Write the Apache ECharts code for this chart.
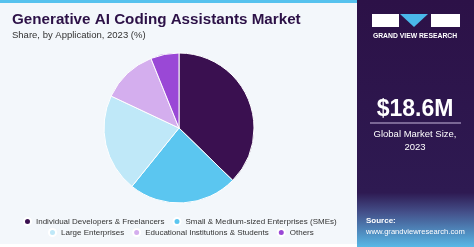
<!DOCTYPE html>
<html>
<head>
<meta charset="utf-8">
<script src="https://cdn.jsdelivr.net/npm/echarts@6/dist/echarts.min.js"></script>
<style>
  html, body { margin: 0; padding: 0; background: #f3f7fb; }
  #chart { width: 474px; height: 247px; }
</style>
</head>
<body>
<div id="chart"></div>
<script>
// shares, 2023 (%)
var categories = [
	'Individual Developers & Freelancers',
	'Small & Medium-sized Enterprises (SMEs)',
	'Large Enterprises',
	'Educational Institutions & Students',
	'Others'
];
var shares = [37.3, 23.5, 21.2, 11.9, 6.1];
var colors = ['#3a1050', '#5bc6f0', '#bfe8f8', '#d4aeee', '#9a48d6'];

var marketSize = '$18.6M';
var marketLabel = 'Global Market Size,\n2023';

var chart = echarts.init(document.getElementById('chart'), null, { renderer: 'canvas' });

var data = [];
for (var i = 0; i < categories.length; i++)
{
	data.push({ name: categories[i], value: shares[i], itemStyle: { color: colors[i] } });
}

var legendBase =
{
	orient: 'horizontal',
	icon: 'circle',
	itemWidth: 7,
	itemHeight: 7,
	itemGap: 8,
	textStyle: { fontSize: 8, color: '#333', fontFamily: 'Liberation Sans' },
	selectedMode: false
};

var options =
{
	backgroundColor: '#f3f7fb',
	animation: false,
	legend:
	[
		Object.assign({}, legendBase, { data: categories.slice(0, 2), left: 18, top: 212 }),
		Object.assign({}, legendBase, { data: categories.slice(2), left: 43, top: 223 })
	],
	graphic:
	[
		{ type: 'rect', shape: { x: 0, y: 0, width: 357, height: 3 }, style: { fill: '#56c2ee' } },
		{ type: 'rect', shape: { x: 0, y: 244, width: 357, height: 3 }, style: { fill: '#ffffff' } },
		{
			type: 'rect', shape: { x: 357, y: 0, width: 117, height: 247 },
			style:
			{
				fill: new echarts.graphic.LinearGradient(0, 0, 0, 1,
				[
					{ offset: 0, color: '#2c1147' },
					{ offset: 0.78, color: '#2e1a52' },
					{ offset: 0.86, color: '#44508a' },
					{ offset: 1, color: '#58b8e6' }
				])
			}
		},
		{
			type: 'text', left: 12, top: 12,
			style: { text: 'Generative AI Coding Assistants Market', fontSize: 15.2, fontWeight: 'bold', fill: '#2c1147', fontFamily: 'Liberation Sans' }
		},
		{
			type: 'text', left: 12, top: 30,
			style: { text: 'Share, by Application, 2023 (%)', fontSize: 9.5, fill: '#333', fontFamily: 'Liberation Sans' }
		},
		// logo
		{ type: 'rect', shape: { x: 372, y: 14, width: 27, height: 13 }, style: { fill: '#ffffff' } },
		{ type: 'polygon', shape: { points: [[400, 14], [428, 14], [414, 27]] }, style: { fill: '#4ab8ea' } },
		{ type: 'rect', shape: { x: 431, y: 14, width: 29, height: 13 }, style: { fill: '#ffffff' } },
		{
			type: 'text', x: 415, y: 33,
			style: { text: 'GRAND VIEW RESEARCH', fontSize: 6.8, fontWeight: 'bold', fill: '#ffffff', align: 'center', fontFamily: 'Liberation Sans' }
		},
		{
			type: 'text', x: 415, y: 98,
			style: { text: marketSize, fontSize: 23, fontWeight: 'bold', fill: '#ffffff', align: 'center', fontFamily: 'Liberation Sans' }
		},
		{ type: 'line', shape: { x1: 370, y1: 123, x2: 461, y2: 123 }, style: { stroke: '#c8b8dc', lineWidth: 1 } },
		{
			type: 'text', x: 415, y: 128,
			style: { text: marketLabel, fontSize: 9.5, lineHeight: 13, fill: '#ffffff', align: 'center', fontFamily: 'Liberation Sans' }
		},
		{
			type: 'text', x: 366, y: 217,
			style: { text: 'Source:', fontSize: 8, fontWeight: 'bold', fill: '#ffffff', fontFamily: 'Liberation Sans' }
		},
		{
			type: 'text', x: 366, y: 228,
			style: { text: 'www.grandviewresearch.com', fontSize: 7.6, fill: '#ffffff', fontFamily: 'Liberation Sans' }
		}
	],
	series:
	[
		{
			type: 'pie',
			center: [179, 128],
			radius: [0, 75],
			startAngle: 90,
			clockwise: true,
			label: { show: false },
			labelLine: { show: false },
			itemStyle: { borderColor: '#ffffff', borderWidth: 1 },
			emphasis: { disabled: true },
			data: data
		}
	]
};

chart.setOption(options);
</script>
</body>
</html>
